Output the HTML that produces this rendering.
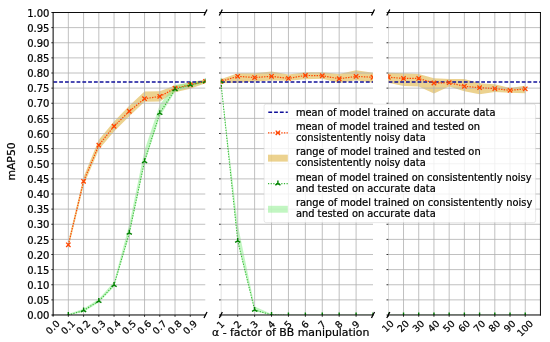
<!DOCTYPE html>
<html><head><meta charset="utf-8"><style>
html,body{margin:0;padding:0;background:#fff;}
body{width:550px;height:342px;overflow:hidden;}
svg{display:block;}
</style></head><body>
<svg width="550" height="342" viewBox="0 0 550 342">
<rect x="0" y="0" width="550" height="342" fill="#fff"/>
<defs>
<clipPath id="c0"><rect x="53.1" y="12.5" width="152.4" height="302.5"/></clipPath>
<clipPath id="c1"><rect x="220.8" y="12.5" width="152.2" height="302.5"/></clipPath>
<clipPath id="c2"><rect x="388.3" y="12.5" width="152.15" height="302.5"/></clipPath>
</defs>
<g clip-path="url(#c0)">
<polygon points="68.34,241.19 83.58,177.06 98.82,139.85 114.06,121.4 129.3,105.67 144.54,91.45 159.78,91.15 175.02,85.4 190.26,82.38 205.5,79.35 357.9,73.15 510.3,73.15 662.7,71.49 815.1,74.51 967.5,72.24 1119.9,72.24 1272.3,73.91 1424.7,70.28 1577.1,72.7 3101.1,73.15 4625.1,73.91 6149.1,78.14 7673.1,79.05 9197.1,79.05 10721.1,83.28 12245.1,84.19 13769.1,88.12 15293.1,85.7 15293.1,93.27 13769.1,92.66 12245.1,92.06 10721.1,94.18 9197.1,91.15 7673.1,86.61 6149.1,93.57 4625.1,86.61 3101.1,86.01 1577.1,82.68 1424.7,80.35 1272.3,83.07 1119.9,78.87 967.5,79.35 815.1,80.86 662.7,80.56 510.3,81.47 357.9,82.68 205.5,83.28 190.26,88.73 175.02,92.36 159.78,101.44 144.54,101.74 129.3,116.26 114.06,131.38 98.82,149.53 83.58,185.53 68.34,248.45" fill="#daa520" fill-opacity="0.5"/>
<polygon points="68.34,314.09 83.58,308.65 98.82,298.97 114.06,281.73 129.3,224.25 144.54,150.14 159.78,104.76 175.02,85.1 190.26,82.38 205.5,80.26 357.9,224.25 510.3,306.53 662.7,314.09 815.1,314.39 967.5,314.39 1119.9,314.39 1272.3,314.39 1424.7,314.39 1577.1,314.39 3101.1,314.39 4625.1,314.39 6149.1,314.39 7673.1,314.39 9197.1,314.39 10721.1,314.39 12245.1,314.39 13769.1,314.39 15293.1,314.39 15293.1,315 13769.1,315 12245.1,315 10721.1,315 9197.1,315 7673.1,315 6149.1,315 4625.1,315 3101.1,315 1577.1,315 1424.7,315 1272.3,315 1119.9,315 967.5,315 815.1,315 662.7,315 510.3,311.37 357.9,243 205.5,82.68 190.26,86.91 175.02,91.75 159.78,116.86 144.54,163.75 129.3,235.75 114.06,286.87 98.82,302.6 83.58,311.98 68.34,315" fill="#90ee90" fill-opacity="0.55"/>
<path d="M53.1,315H205.5M53.1,299.88H205.5M53.1,284.75H205.5M53.1,269.62H205.5M53.1,254.5H205.5M53.1,239.38H205.5M53.1,224.25H205.5M53.1,209.12H205.5M53.1,194H205.5M53.1,178.88H205.5M53.1,163.75H205.5M53.1,148.62H205.5M53.1,133.5H205.5M53.1,118.38H205.5M53.1,103.25H205.5M53.1,88.12H205.5M53.1,73H205.5M53.1,57.88H205.5M53.1,42.75H205.5M53.1,27.62H205.5M53.1,12.5H205.5M53.1,12.5V315M68.34,12.5V315M83.58,12.5V315M98.82,12.5V315M114.06,12.5V315M129.3,12.5V315M144.54,12.5V315M159.78,12.5V315M175.02,12.5V315M190.26,12.5V315" stroke="#b0b0b0" stroke-width="0.8" fill="none"/>
<path d="M53.1,81.98H205.5" stroke="#10109a" stroke-width="1.5" stroke-dasharray="3.8 1.99" stroke-dashoffset="-0.3" fill="none"/>
<polyline points="68.34,244.82 83.58,181.29 98.82,145.18 114.06,126.24 129.3,111.27 144.54,98.71 159.78,96.44 175.02,88.25 190.26,84.8 205.5,81.41 357.9,76.33 510.3,77.54 662.7,76.33 815.1,78.44 967.5,75.42 1119.9,75.72 1272.3,78.75 1424.7,76.45 1577.1,77.23 3101.1,78.44 4625.1,78.44 6149.1,82.98 7673.1,82.68 9197.1,86.31 10721.1,87.67 12245.1,88.55 13769.1,90.36 15293.1,88.85" stroke="#ff4500" stroke-width="1.2" stroke-dasharray="1.4 1.25" fill="none"/>
<path d="M66.14,242.62L70.54,247.02M66.14,247.02L70.54,242.62M81.38,179.09L85.78,183.49M81.38,183.49L85.78,179.09M96.62,142.98L101.02,147.38M96.62,147.38L101.02,142.98M111.86,124.04L116.26,128.44M111.86,128.44L116.26,124.04M127.1,109.07L131.5,113.47M127.1,113.47L131.5,109.07M142.34,96.51L146.74,100.91M142.34,100.91L146.74,96.51M157.58,94.24L161.98,98.64M157.58,98.64L161.98,94.24M172.82,86.05L177.22,90.45M172.82,90.45L177.22,86.05M188.06,82.6L192.46,87M188.06,87L192.46,82.6M203.3,79.21L207.7,83.61M203.3,83.61L207.7,79.21" stroke="#ff4500" stroke-width="1.3" fill="none"/>
<polyline points="68.34,315 83.58,310.46 98.82,301.08 114.06,285.05 129.3,232.84 144.54,161.33 159.78,113.23 175.02,89.46 190.26,84.8 205.5,81.47 357.9,240.89 510.3,309.98 662.7,315 815.1,315.51 967.5,315.51 1119.9,315.51 1272.3,315.51 1424.7,315.51 1577.1,315.51 3101.1,315.51 4625.1,315.51 6149.1,315.51 7673.1,315.51 9197.1,315.51 10721.1,315.51 12245.1,315.51 13769.1,315.51 15293.1,315.51" stroke="#22b022" stroke-width="1.05" stroke-opacity="0.9" stroke-dasharray="1.2 1.45" fill="none"/>
<path d="M68.34,315V312M68.34,315L65.74,316.5M68.34,315L70.94,316.5M83.58,310.46V307.46M83.58,310.46L80.98,311.96M83.58,310.46L86.18,311.96M98.82,301.08V298.08M98.82,301.08L96.22,302.58M98.82,301.08L101.42,302.58M114.06,285.05V282.05M114.06,285.05L111.46,286.55M114.06,285.05L116.66,286.55M129.3,232.84V229.84M129.3,232.84L126.7,234.34M129.3,232.84L131.9,234.34M144.54,161.33V158.33M144.54,161.33L141.94,162.83M144.54,161.33L147.14,162.83M159.78,113.23V110.23M159.78,113.23L157.18,114.73M159.78,113.23L162.38,114.73M175.02,89.46V86.46M175.02,89.46L172.42,90.96M175.02,89.46L177.62,90.96M190.26,84.8V81.8M190.26,84.8L187.66,86.3M190.26,84.8L192.86,86.3M205.5,81.47V78.47M205.5,81.47L202.9,82.97M205.5,81.47L208.1,82.97" stroke="#008000" stroke-width="1.4" fill="none"/>
</g>
<path d="M53.1,12.5H205.5M53.1,315H205.5M53.1,12.5V315" stroke="#000" stroke-width="0.95" fill="none" stroke-linecap="square"/>
<path d="M53.1,315h-1.8M53.1,299.88h-1.8M53.1,284.75h-1.8M53.1,269.62h-1.8M53.1,254.5h-1.8M53.1,239.38h-1.8M53.1,224.25h-1.8M53.1,209.12h-1.8M53.1,194h-1.8M53.1,178.88h-1.8M53.1,163.75h-1.8M53.1,148.62h-1.8M53.1,133.5h-1.8M53.1,118.38h-1.8M53.1,103.25h-1.8M53.1,88.12h-1.8M53.1,73h-1.8M53.1,57.88h-1.8M53.1,42.75h-1.8M53.1,27.62h-1.8M53.1,12.5h-1.8M53.1,315v1.8M68.34,315v1.8M83.58,315v1.8M98.82,315v1.8M114.06,315v1.8M129.3,315v1.8M144.54,315v1.8M159.78,315v1.8M175.02,315v1.8M190.26,315v1.8" stroke="#000" stroke-width="0.8" fill="none"/>
<path d="M203.98,15.53L207.02,9.47M203.98,318.02L207.02,311.98" stroke="#000" stroke-width="1.3" fill="none"/>
<g clip-path="url(#c1)">
<polygon points="205.58,241.19 207.27,177.06 208.96,139.85 210.65,121.4 212.34,105.67 214.04,91.45 215.73,91.15 217.42,85.4 219.11,82.38 220.8,79.35 237.71,73.15 254.62,73.15 271.53,71.49 288.44,74.51 305.36,72.24 322.27,72.24 339.18,73.91 356.09,70.28 373,72.7 542.11,73.15 711.22,73.91 880.33,78.14 1049.44,79.05 1218.56,79.05 1387.67,83.28 1556.78,84.19 1725.89,88.12 1895,85.7 1895,93.27 1725.89,92.66 1556.78,92.06 1387.67,94.18 1218.56,91.15 1049.44,86.61 880.33,93.57 711.22,86.61 542.11,86.01 373,82.68 356.09,80.35 339.18,83.07 322.27,78.87 305.36,79.35 288.44,80.86 271.53,80.56 254.62,81.47 237.71,82.68 220.8,83.28 219.11,88.73 217.42,92.36 215.73,101.44 214.04,101.74 212.34,116.26 210.65,131.38 208.96,149.53 207.27,185.53 205.58,248.45" fill="#daa520" fill-opacity="0.5"/>
<polygon points="205.58,314.09 207.27,308.65 208.96,298.97 210.65,281.73 212.34,224.25 214.04,150.14 215.73,104.76 217.42,85.1 219.11,82.38 220.8,80.26 237.71,224.25 254.62,306.53 271.53,314.09 288.44,314.39 305.36,314.39 322.27,314.39 339.18,314.39 356.09,314.39 373,314.39 542.11,314.39 711.22,314.39 880.33,314.39 1049.44,314.39 1218.56,314.39 1387.67,314.39 1556.78,314.39 1725.89,314.39 1895,314.39 1895,315 1725.89,315 1556.78,315 1387.67,315 1218.56,315 1049.44,315 880.33,315 711.22,315 542.11,315 373,315 356.09,315 339.18,315 322.27,315 305.36,315 288.44,315 271.53,315 254.62,311.37 237.71,243 220.8,82.68 219.11,86.91 217.42,91.75 215.73,116.86 214.04,163.75 212.34,235.75 210.65,286.87 208.96,302.6 207.27,311.98 205.58,315" fill="#90ee90" fill-opacity="0.55"/>
<path d="M220.8,315H373M220.8,299.88H373M220.8,284.75H373M220.8,269.62H373M220.8,254.5H373M220.8,239.38H373M220.8,224.25H373M220.8,209.12H373M220.8,194H373M220.8,178.88H373M220.8,163.75H373M220.8,148.62H373M220.8,133.5H373M220.8,118.38H373M220.8,103.25H373M220.8,88.12H373M220.8,73H373M220.8,57.88H373M220.8,42.75H373M220.8,27.62H373M220.8,12.5H373M220.8,12.5V315M237.71,12.5V315M254.62,12.5V315M271.53,12.5V315M288.44,12.5V315M305.36,12.5V315M322.27,12.5V315M339.18,12.5V315M356.09,12.5V315" stroke="#b0b0b0" stroke-width="0.8" fill="none"/>
<path d="M220.8,81.98H373" stroke="#10109a" stroke-width="1.5" stroke-dasharray="3.8 1.99" stroke-dashoffset="-0.3" fill="none"/>
<polyline points="205.58,244.82 207.27,181.29 208.96,145.18 210.65,126.24 212.34,111.27 214.04,98.71 215.73,96.44 217.42,88.25 219.11,84.8 220.8,81.41 237.71,76.33 254.62,77.54 271.53,76.33 288.44,78.44 305.36,75.42 322.27,75.72 339.18,78.75 356.09,76.45 373,77.23 542.11,78.44 711.22,78.44 880.33,82.98 1049.44,82.68 1218.56,86.31 1387.67,87.67 1556.78,88.55 1725.89,90.36 1895,88.85" stroke="#ff4500" stroke-width="1.2" stroke-dasharray="1.4 1.25" fill="none"/>
<path d="M215.22,86.05L219.62,90.45M215.22,90.45L219.62,86.05M216.91,82.6L221.31,87M216.91,87L221.31,82.6M218.6,79.21L223,83.61M218.6,83.61L223,79.21M235.51,74.13L239.91,78.53M235.51,78.53L239.91,74.13M252.42,75.34L256.82,79.74M252.42,79.74L256.82,75.34M269.33,74.13L273.73,78.53M269.33,78.53L273.73,74.13M286.24,76.24L290.64,80.64M286.24,80.64L290.64,76.24M303.16,73.22L307.56,77.62M303.16,77.62L307.56,73.22M320.07,73.52L324.47,77.92M320.07,77.92L324.47,73.52M336.98,76.55L341.38,80.95M336.98,80.95L341.38,76.55M353.89,74.25L358.29,78.65M353.89,78.65L358.29,74.25M370.8,75.03L375.2,79.43M370.8,79.43L375.2,75.03" stroke="#ff4500" stroke-width="1.3" fill="none"/>
<polyline points="205.58,315 207.27,310.46 208.96,301.08 210.65,285.05 212.34,232.84 214.04,161.33 215.73,113.23 217.42,89.46 219.11,84.8 220.8,81.47 237.71,240.89 254.62,309.98 271.53,315 288.44,315.51 305.36,315.51 322.27,315.51 339.18,315.51 356.09,315.51 373,315.51 542.11,315.51 711.22,315.51 880.33,315.51 1049.44,315.51 1218.56,315.51 1387.67,315.51 1556.78,315.51 1725.89,315.51 1895,315.51" stroke="#22b022" stroke-width="1.05" stroke-opacity="0.9" stroke-dasharray="1.2 1.45" fill="none"/>
<path d="M217.42,89.46V86.46M217.42,89.46L214.82,90.96M217.42,89.46L220.02,90.96M219.11,84.8V81.8M219.11,84.8L216.51,86.3M219.11,84.8L221.71,86.3M220.8,81.47V78.47M220.8,81.47L218.2,82.97M220.8,81.47L223.4,82.97M237.71,240.89V237.89M237.71,240.89L235.11,242.39M237.71,240.89L240.31,242.39M254.62,309.98V306.98M254.62,309.98L252.02,311.48M254.62,309.98L257.22,311.48M271.53,315V312M271.53,315L268.94,316.5M271.53,315L274.13,316.5M288.44,315.51V312.51M288.44,315.51L285.85,317.01M288.44,315.51L291.04,317.01M305.36,315.51V312.51M305.36,315.51L302.76,317.01M305.36,315.51L307.95,317.01M322.27,315.51V312.51M322.27,315.51L319.67,317.01M322.27,315.51L324.86,317.01M339.18,315.51V312.51M339.18,315.51L336.58,317.01M339.18,315.51L341.78,317.01M356.09,315.51V312.51M356.09,315.51L353.49,317.01M356.09,315.51L358.69,317.01M373,315.51V312.51M373,315.51L370.4,317.01M373,315.51L375.6,317.01" stroke="#008000" stroke-width="1.4" fill="none"/>
</g>
<path d="M220.8,12.5H373M220.8,315H373" stroke="#000" stroke-width="0.95" fill="none" stroke-linecap="square"/>
<path d="M220.8,315h-1.8M220.8,299.88h-1.8M220.8,284.75h-1.8M220.8,269.62h-1.8M220.8,254.5h-1.8M220.8,239.38h-1.8M220.8,224.25h-1.8M220.8,209.12h-1.8M220.8,194h-1.8M220.8,178.88h-1.8M220.8,163.75h-1.8M220.8,148.62h-1.8M220.8,133.5h-1.8M220.8,118.38h-1.8M220.8,103.25h-1.8M220.8,88.12h-1.8M220.8,73h-1.8M220.8,57.88h-1.8M220.8,42.75h-1.8M220.8,27.62h-1.8M220.8,12.5h-1.8M220.8,315v1.8M237.71,315v1.8M254.62,315v1.8M271.53,315v1.8M288.44,315v1.8M305.36,315v1.8M322.27,315v1.8M339.18,315v1.8M356.09,315v1.8" stroke="#000" stroke-width="0.8" fill="none"/>
<path d="M371.48,15.53L374.52,9.47M371.48,318.02L374.52,311.98M219.28,15.53L222.32,9.47M219.28,318.02L222.32,311.98" stroke="#000" stroke-width="1.3" fill="none"/>
<g clip-path="url(#c2)">
<polygon points="373.24,241.19 373.39,177.06 373.54,139.85 373.69,121.4 373.85,105.67 374,91.45 374.15,91.15 374.3,85.4 374.45,82.38 374.61,79.35 376.13,73.15 377.65,73.15 379.17,71.49 380.69,74.51 382.21,72.24 383.74,72.24 385.26,73.91 386.78,70.28 388.3,72.7 403.52,73.15 418.73,73.91 433.95,78.14 449.16,79.05 464.38,79.05 479.59,83.28 494.81,84.19 510.02,88.12 525.24,85.7 525.24,93.27 510.02,92.66 494.81,92.06 479.59,94.18 464.38,91.15 449.16,86.61 433.95,93.57 418.73,86.61 403.52,86.01 388.3,82.68 386.78,80.35 385.26,83.07 383.74,78.87 382.21,79.35 380.69,80.86 379.17,80.56 377.65,81.47 376.13,82.68 374.61,83.28 374.45,88.73 374.3,92.36 374.15,101.44 374,101.74 373.85,116.26 373.69,131.38 373.54,149.53 373.39,185.53 373.24,248.45" fill="#daa520" fill-opacity="0.5"/>
<polygon points="373.24,314.09 373.39,308.65 373.54,298.97 373.69,281.73 373.85,224.25 374,150.14 374.15,104.76 374.3,85.1 374.45,82.38 374.61,80.26 376.13,224.25 377.65,306.53 379.17,314.09 380.69,314.39 382.21,314.39 383.74,314.39 385.26,314.39 386.78,314.39 388.3,314.39 403.52,314.39 418.73,314.39 433.95,314.39 449.16,314.39 464.38,314.39 479.59,314.39 494.81,314.39 510.02,314.39 525.24,314.39 525.24,315 510.02,315 494.81,315 479.59,315 464.38,315 449.16,315 433.95,315 418.73,315 403.52,315 388.3,315 386.78,315 385.26,315 383.74,315 382.21,315 380.69,315 379.17,315 377.65,311.37 376.13,243 374.61,82.68 374.45,86.91 374.3,91.75 374.15,116.86 374,163.75 373.85,235.75 373.69,286.87 373.54,302.6 373.39,311.98 373.24,315" fill="#90ee90" fill-opacity="0.55"/>
<path d="M388.3,315H540.45M388.3,299.88H540.45M388.3,284.75H540.45M388.3,269.62H540.45M388.3,254.5H540.45M388.3,239.38H540.45M388.3,224.25H540.45M388.3,209.12H540.45M388.3,194H540.45M388.3,178.88H540.45M388.3,163.75H540.45M388.3,148.62H540.45M388.3,133.5H540.45M388.3,118.38H540.45M388.3,103.25H540.45M388.3,88.12H540.45M388.3,73H540.45M388.3,57.88H540.45M388.3,42.75H540.45M388.3,27.62H540.45M388.3,12.5H540.45M388.3,12.5V315M403.52,12.5V315M418.73,12.5V315M433.95,12.5V315M449.16,12.5V315M464.38,12.5V315M479.59,12.5V315M494.81,12.5V315M510.02,12.5V315M525.24,12.5V315" stroke="#b0b0b0" stroke-width="0.8" fill="none"/>
<path d="M388.3,81.98H540.45" stroke="#10109a" stroke-width="1.5" stroke-dasharray="3.8 1.99" stroke-dashoffset="-0.3" fill="none"/>
<polyline points="373.24,244.82 373.39,181.29 373.54,145.18 373.69,126.24 373.85,111.27 374,98.71 374.15,96.44 374.3,88.25 374.45,84.8 374.61,81.41 376.13,76.33 377.65,77.54 379.17,76.33 380.69,78.44 382.21,75.42 383.74,75.72 385.26,78.75 386.78,76.45 388.3,77.23 403.52,78.44 418.73,78.44 433.95,82.98 449.16,82.68 464.38,86.31 479.59,87.67 494.81,88.55 510.02,90.36 525.24,88.85" stroke="#ff4500" stroke-width="1.2" stroke-dasharray="1.4 1.25" fill="none"/>
<path d="M381.54,73.52L385.94,77.92M381.54,77.92L385.94,73.52M383.06,76.55L387.46,80.95M383.06,80.95L387.46,76.55M384.58,74.25L388.98,78.65M384.58,78.65L388.98,74.25M386.1,75.03L390.5,79.43M386.1,79.43L390.5,75.03M401.32,76.24L405.72,80.64M401.32,80.64L405.72,76.24M416.53,76.24L420.93,80.64M416.53,80.64L420.93,76.24M431.75,80.78L436.15,85.18M431.75,85.18L436.15,80.78M446.96,80.48L451.36,84.88M446.96,84.88L451.36,80.48M462.18,84.11L466.57,88.51M462.18,88.51L466.57,84.11M477.39,85.47L481.79,89.87M477.39,89.87L481.79,85.47M492.61,86.35L497.01,90.75M492.61,90.75L497.01,86.35M507.82,88.16L512.22,92.56M507.82,92.56L512.22,88.16M523.03,86.65L527.44,91.05M523.03,91.05L527.44,86.65" stroke="#ff4500" stroke-width="1.3" fill="none"/>
<polyline points="373.24,315 373.39,310.46 373.54,301.08 373.69,285.05 373.85,232.84 374,161.33 374.15,113.23 374.3,89.46 374.45,84.8 374.61,81.47 376.13,240.89 377.65,309.98 379.17,315 380.69,315.51 382.21,315.51 383.74,315.51 385.26,315.51 386.78,315.51 388.3,315.51 403.52,315.51 418.73,315.51 433.95,315.51 449.16,315.51 464.38,315.51 479.59,315.51 494.81,315.51 510.02,315.51 525.24,315.51" stroke="#22b022" stroke-width="1.05" stroke-opacity="0.9" stroke-dasharray="1.2 1.45" fill="none"/>
<path d="M383.74,315.51V312.51M383.74,315.51L381.14,317.01M383.74,315.51L386.33,317.01M385.26,315.51V312.51M385.26,315.51L382.66,317.01M385.26,315.51L387.86,317.01M386.78,315.51V312.51M386.78,315.51L384.18,317.01M386.78,315.51L389.38,317.01M388.3,315.51V312.51M388.3,315.51L385.7,317.01M388.3,315.51L390.9,317.01M403.52,315.51V312.51M403.52,315.51L400.92,317.01M403.52,315.51L406.11,317.01M418.73,315.51V312.51M418.73,315.51L416.13,317.01M418.73,315.51L421.33,317.01M433.95,315.51V312.51M433.95,315.51L431.35,317.01M433.95,315.51L436.54,317.01M449.16,315.51V312.51M449.16,315.51L446.56,317.01M449.16,315.51L451.76,317.01M464.38,315.51V312.51M464.38,315.51L461.78,317.01M464.38,315.51L466.97,317.01M479.59,315.51V312.51M479.59,315.51L476.99,317.01M479.59,315.51L482.19,317.01M494.81,315.51V312.51M494.81,315.51L492.21,317.01M494.81,315.51L497.4,317.01M510.02,315.51V312.51M510.02,315.51L507.42,317.01M510.02,315.51L512.62,317.01M525.24,315.51V312.51M525.24,315.51L522.64,317.01M525.24,315.51L527.83,317.01" stroke="#008000" stroke-width="1.4" fill="none"/>
</g>
<path d="M388.3,12.5H540.45M388.3,315H540.45M540.45,12.5V315" stroke="#000" stroke-width="0.95" fill="none" stroke-linecap="square"/>
<path d="M388.3,315h-1.8M388.3,299.88h-1.8M388.3,284.75h-1.8M388.3,269.62h-1.8M388.3,254.5h-1.8M388.3,239.38h-1.8M388.3,224.25h-1.8M388.3,209.12h-1.8M388.3,194h-1.8M388.3,178.88h-1.8M388.3,163.75h-1.8M388.3,148.62h-1.8M388.3,133.5h-1.8M388.3,118.38h-1.8M388.3,103.25h-1.8M388.3,88.12h-1.8M388.3,73h-1.8M388.3,57.88h-1.8M388.3,42.75h-1.8M388.3,27.62h-1.8M388.3,12.5h-1.8M388.3,315v1.8M403.52,315v1.8M418.73,315v1.8M433.95,315v1.8M449.16,315v1.8M464.38,315v1.8M479.59,315v1.8M494.81,315v1.8M510.02,315v1.8M525.24,315v1.8" stroke="#000" stroke-width="0.8" fill="none"/>
<path d="M386.78,15.53L389.82,9.47M386.78,318.02L389.82,311.98" stroke="#000" stroke-width="1.3" fill="none"/>
<g font-family="'DejaVu Sans', 'Liberation Sans', sans-serif" font-size="10" fill="#000" stroke="#000" stroke-width="0.22" text-anchor="end">
<text x="49.4" y="319.15">0.00</text>
<text x="49.4" y="304.02">0.05</text>
<text x="49.4" y="288.9">0.10</text>
<text x="49.4" y="273.77">0.15</text>
<text x="49.4" y="258.65">0.20</text>
<text x="49.4" y="243.53">0.25</text>
<text x="49.4" y="228.4">0.30</text>
<text x="49.4" y="213.28">0.35</text>
<text x="49.4" y="198.15">0.40</text>
<text x="49.4" y="183.03">0.45</text>
<text x="49.4" y="167.9">0.50</text>
<text x="49.4" y="152.78">0.55</text>
<text x="49.4" y="137.65">0.60</text>
<text x="49.4" y="122.53">0.65</text>
<text x="49.4" y="107.4">0.70</text>
<text x="49.4" y="92.28">0.75</text>
<text x="49.4" y="77.15">0.80</text>
<text x="49.4" y="62.02">0.85</text>
<text x="49.4" y="46.9">0.90</text>
<text x="49.4" y="31.77">0.95</text>
<text x="49.4" y="16.65">1.00</text>
</g>
<g font-family="'DejaVu Sans', 'Liberation Sans', sans-serif" font-size="9.5" fill="#000" stroke="#000" stroke-width="0.22" text-anchor="middle">
<text transform="translate(52.7,327.1) rotate(-45)" y="3.47">0.0</text>
<text transform="translate(67.94,327.1) rotate(-45)" y="3.47">0.1</text>
<text transform="translate(83.18,327.1) rotate(-45)" y="3.47">0.2</text>
<text transform="translate(98.42,327.1) rotate(-45)" y="3.47">0.3</text>
<text transform="translate(113.66,327.1) rotate(-45)" y="3.47">0.4</text>
<text transform="translate(128.9,327.1) rotate(-45)" y="3.47">0.5</text>
<text transform="translate(144.14,327.1) rotate(-45)" y="3.47">0.6</text>
<text transform="translate(159.38,327.1) rotate(-45)" y="3.47">0.7</text>
<text transform="translate(174.62,327.1) rotate(-45)" y="3.47">0.8</text>
<text transform="translate(189.86,327.1) rotate(-45)" y="3.47">0.9</text>
<text transform="translate(220.4,324.3) rotate(-45)" y="3.47">1</text>
<text transform="translate(237.31,324.3) rotate(-45)" y="3.47">2</text>
<text transform="translate(254.22,324.3) rotate(-45)" y="3.47">3</text>
<text transform="translate(271.13,324.3) rotate(-45)" y="3.47">4</text>
<text transform="translate(288.04,324.3) rotate(-45)" y="3.47">5</text>
<text transform="translate(304.96,324.3) rotate(-45)" y="3.47">6</text>
<text transform="translate(321.87,324.3) rotate(-45)" y="3.47">7</text>
<text transform="translate(338.78,324.3) rotate(-45)" y="3.47">8</text>
<text transform="translate(355.69,324.3) rotate(-45)" y="3.47">9</text>
<text transform="translate(387.9,326.04) rotate(-45)" y="3.47">10</text>
<text transform="translate(403.12,326.04) rotate(-45)" y="3.47">20</text>
<text transform="translate(418.33,326.04) rotate(-45)" y="3.47">30</text>
<text transform="translate(433.55,326.04) rotate(-45)" y="3.47">40</text>
<text transform="translate(448.76,326.04) rotate(-45)" y="3.47">50</text>
<text transform="translate(463.98,326.04) rotate(-45)" y="3.47">60</text>
<text transform="translate(479.19,326.04) rotate(-45)" y="3.47">70</text>
<text transform="translate(494.41,326.04) rotate(-45)" y="3.47">80</text>
<text transform="translate(509.62,326.04) rotate(-45)" y="3.47">90</text>
<text transform="translate(524.84,328.17) rotate(-45)" y="3.47">100</text>
</g>
<text x="212.0" y="336.3" font-family="'DejaVu Sans', 'Liberation Sans', sans-serif" font-size="10.9" fill="#000" stroke="#000" stroke-width="0.22">α - factor of BB manipulation</text>
<text transform="translate(15.4,180.6) rotate(-90)" font-family="'DejaVu Sans', 'Liberation Sans', sans-serif" font-size="10.84" fill="#000" stroke="#000" stroke-width="0.22">mAP50</text>
<rect x="264.1" y="104.1" width="271.5" height="118.5" rx="2" ry="2" fill="#fff" fill-opacity="0.8" stroke="#ccc" stroke-opacity="0.55" stroke-width="0.8"/>
<path d="M268.0,112.2H287.8" stroke="#10109a" stroke-width="1.5" stroke-dasharray="3.8 1.99" stroke-dashoffset="-0.3" fill="none"/>
<path d="M268.0,132.8H287.8" stroke="#ff4500" stroke-width="1.2" stroke-dasharray="1.4 1.25" fill="none"/>
<path d="M275.7,130.6L280.1,135M275.7,135L280.1,130.6" stroke="#ff4500" stroke-width="1.3" fill="none"/>
<rect x="268.0" y="154.7" width="19.8" height="6.9" fill="#daa520" fill-opacity="0.5"/>
<path d="M268.0,183.6H287.8" stroke="#22b022" stroke-width="1.05" stroke-opacity="0.9" stroke-dasharray="1.2 1.45" fill="none"/>
<path d="M277.9,183.6V180.6M277.9,183.6L275.3,185.1M277.9,183.6L280.5,185.1" stroke="#008000" stroke-width="1.4" fill="none"/>
<rect x="268.0" y="205.8" width="19.8" height="6.9" fill="#90ee90" fill-opacity="0.55"/>
<g font-family="'DejaVu Sans', 'Liberation Sans', sans-serif" font-size="9.85" fill="#000" stroke="#000" stroke-width="0.22">
<text x="295.9" y="115.6">mean of model trained on accurate data</text>
<text x="295.9" y="129.6">mean of model trained and tested on</text>
<text x="295.9" y="140.8">consistentently noisy data</text>
<text x="295.9" y="154.9">range of model trained and tested on</text>
<text x="295.9" y="166.0">consistentently noisy data</text>
<text x="295.9" y="180.6">mean of model trained on consistentently noisy</text>
<text x="295.9" y="191.6">and tested on accurate data</text>
<text x="295.9" y="206.0">range of model trained on consistentently noisy</text>
<text x="295.9" y="217.0">and tested on accurate data</text>
</g>
</svg>
</body></html>
